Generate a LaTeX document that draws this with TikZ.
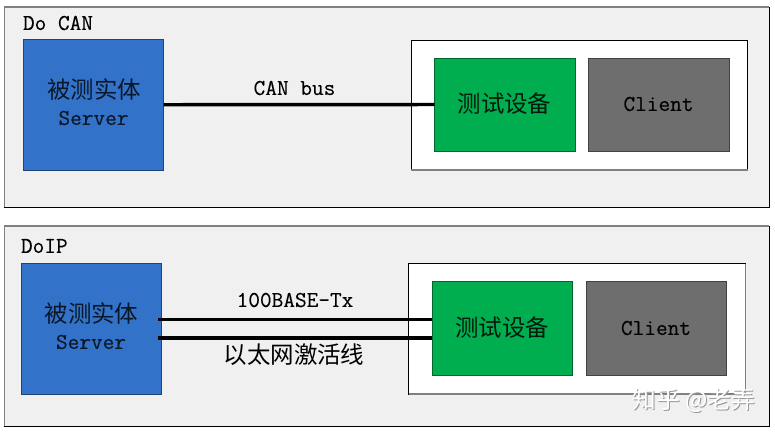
\documentclass[tikz,border=0pt]{standalone}
\usepackage{fontspec}
\setmonofont[FakeBold=0.25]{Latin Modern Mono}
\newfontfamily\cjk{Noto Sans CJK SC}
\definecolor{panelbg}{HTML}{F0F0F0}
\definecolor{serverblue}{HTML}{3272C8}
\definecolor{testgreen}{HTML}{00AE4F}
\definecolor{clientgrey}{HTML}{6E6E6E}
\tikzset{
  x=0.75pt,y=-0.75pt,
  every node/.style={inner sep=0pt,outer sep=0pt},
  panelbox/.style={draw=black,line width=0.7pt,fill=panelbg,anchor=north west},
  holder/.style={draw=black,line width=0.7pt,fill=white,anchor=north west},
  fillbox/.style={draw=#1!60!black,line width=0.7pt,fill=#1,anchor=north west},
  lab/.style={font=\fontsize{17pt}{18pt}\selectfont\ttfamily,text=black},
  cn/.style={font=\fontsize{17.6pt}{19pt}\selectfont\cjk,text=black},
  wire/.style={draw=black,line width=2.6pt},
  softedge/.style={draw=black!50,line width=0.8pt},
}
\newcommand{\bx}[5]{\node[#1,minimum width=#4*0.75pt,minimum height=#5*0.75pt] (#2) at #3 {};}
\begin{document}
\begin{tikzpicture}
\useasboundingbox (0,0) rectangle (775,432);
\fill[white] (0,0) rectangle (775,432);
% Do CAN
\bx{panelbox}{p1}{(4.5,7)}{764.5}{200}
\draw[softedge] (p1.south west) -- (p1.north west) -- (p1.north east);
\node[lab,anchor=west] (t1) at (23,23) {Do CAN};
\bx{fillbox=serverblue}{s1}{(23.5,39.5)}{140}{130.5}
\node[cn,text=black!80!serverblue] (s1a) at (94,89) {被测实体};
\node[lab,text=black!80!serverblue] (s1b) at (93.5,118) {Server};
\bx{holder}{h1}{(411,40)}{336.5}{130}
\draw[softedge] (h1.south east) -- (h1.south west);
\bx{fillbox=testgreen}{g1}{(434.5,58)}{140.5}{93}
\node[cn,text=black!85!testgreen] (g1a) at (504.5,104) {测试设备};
\bx{fillbox=clientgrey}{c1}{(588.5,58)}{140.5}{93}
\node[lab] (c1a) at (658.5,104) {Client};
\draw[wire] (s1.east) -- (g1.west);
\node[lab] (w1) at (294.5,88) {CAN bus};
% DoIP
\bx{panelbox}{p2}{(4.5,226)}{764.5}{200}
\draw[softedge] (p2.south west) -- (p2.north west) -- (p2.north east);
\node[lab,anchor=west] (t2) at (21,246) {DoIP};
\bx{fillbox=serverblue}{s2}{(21,263.5)}{140.5}{130.5}
\node[cn,text=black!80!serverblue] (s2a) at (91.5,313) {被测实体};
\node[lab,text=black!80!serverblue] (s2b) at (91,342) {Server};
\bx{holder}{h2}{(408.5,263.5)}{337}{130.5}
\draw[softedge] (h2.north east) -- (h2.south east) -- (h2.south west);
\bx{fillbox=testgreen}{g2}{(432,281.5)}{140.5}{93.5}
\node[cn,text=black!85!testgreen] (g2a) at (502,328) {测试设备};
\bx{fillbox=clientgrey}{c2}{(586,281.5)}{140.5}{93.5}
\node[lab] (c2a) at (656,328) {Client};
\coordinate (a1) at ([xshift=-2.6pt,yshift=6.9pt]s2.east);
\coordinate (a2) at ([xshift=-2.6pt,yshift=-7pt]s2.east);
\draw[wire] (a1) -- (a1 -| g2.west);
\draw[wire] (a2) -- (a2 -| g2.west);
\node[lab] (w2) at (295,300) {100BASE-Tx};
\node[cn] (w3) at (294,355) {以太网激活线};
% watermark
\node[font=\fontsize{17.8pt}{19pt}\selectfont\cjk,text=black!40] (wm0) at (694.8,401.5) {知乎 @老弄};
\node[font=\fontsize{17.8pt}{19pt}\selectfont\cjk,text=white] (wm) at (693.8,400.5) {知乎 @老弄};
\end{tikzpicture}
\end{document}
